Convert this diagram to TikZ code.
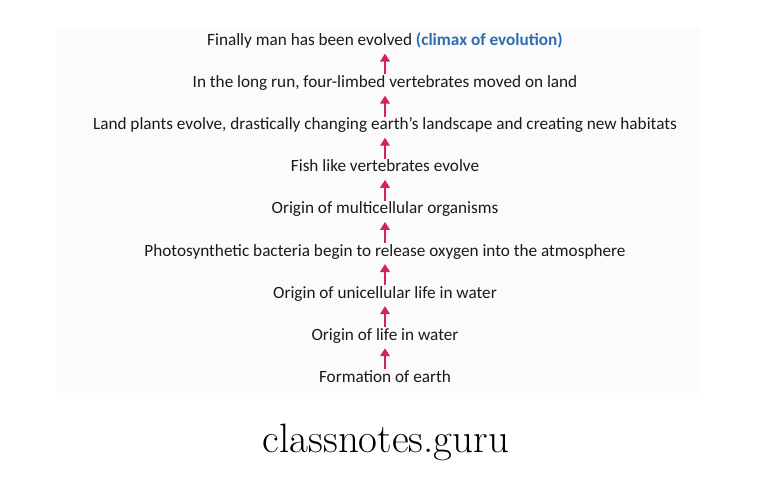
\documentclass[tikz,border=0pt]{standalone}
\usepackage{fontspec}
\setmainfont{Carlito}
\newfontfamily\markfont{Latin Modern Roman}
\usepackage{xcolor}
\usetikzlibrary{arrows.meta, positioning}

\definecolor{stepred}{HTML}{D42456}
\definecolor{noteblue}{HTML}{2F6DB3}
\definecolor{inkgray}{HTML}{1A1A1A}

\begin{document}
\begin{tikzpicture}[
            x = 1bp, y = 1bp,
            > = {Triangle[width=9.5bp, length=8bp]}, % arrow head style
            shorten > = 4.5bp, % don't touch arrow head to node
            shorten < = 4bp,
            node distance = 42.1bp, % distance between nodes
            semithick % line style
        ]

        \tikzstyle{every node}=[
            text = inkgray,
            font = \fontsize{17.2bp}{19bp}\selectfont,
            text height = 1.45ex,
            text depth = .25ex,
            inner sep = 2bp
        ]
        \tikzstyle{up}=[->, draw = stepred, fill = stepred, line width = 2.8bp]

        \useasboundingbox (0,0) rectangle (768,486);
        \fill[gray!3] (57,93) rectangle (700,458);

        \node (a) at (385,106.5) {Formation of earth};
        \node (b) [above of=a] {Origin of life in water};
        \node (c) [above of=b] {Origin of unicellular life in water};
        \node (d) [above of=c] {Photosynthetic bacteria begin to release oxygen into the atmosphere};
        \node (e) [above of=d] {Origin of multicellular organisms};
        \node (f) [above of=e] {Fish like vertebrates evolve};
        \node (g) [above of=f] {Land plants evolve, drastically changing earth’s landscape and creating new habitats};
        \node (h) [above of=g] {In the long run, four-limbed vertebrates moved on land};
        \node (i) [above of=h] {Finally man has been evolved {\bfseries\color{noteblue}(climax of evolution)}};

        \path[up] (a) edge (b);
        \path[up] (b) edge (c);
        \path[up] (c) edge (d);
        \path[up] (d) edge (e);
        \path[up] (e) edge (f);
        \path[up] (f) edge (g);
        \path[up] (g) edge (h);
        \path[up] (h) edge (i);

        \node[anchor = base, text = black, font = \markfont\fontsize{41bp}{44bp}\selectfont] (site) at (386,33) {classnotes.guru};

  \end{tikzpicture}
\end{document}
